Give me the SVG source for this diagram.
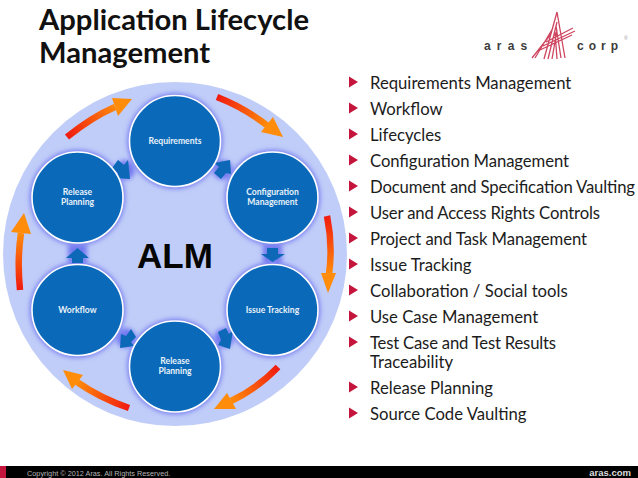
<svg xmlns="http://www.w3.org/2000/svg" width="638" height="478" viewBox="0 0 638 478">
<style>
text{font-variant-ligatures:none}
.title{font:700 29.200px Lato,"Liberation Sans",sans-serif;fill:#111}
.item{font:16.700px Lato,"Liberation Sans",sans-serif;fill:#1c1c1c}
.lab{font:700 8.600px Lato,"Liberation Sans",sans-serif;fill:#e8f2fa;text-anchor:middle}
.node{fill:#0a69b8;stroke:#fff;stroke-width:1.6}
.glow{fill:#7379f0;filter:url(#blur)}
.small{fill:#0a69b8;filter:url(#soft)}
.shaft{fill:none;stroke-width:6.500}
.head{fill:#ff8c0a}
.bul{fill:#c4153c}
.logo{font-family:"Liberation Sans",sans-serif;font-weight:700;font-size:12px;fill:#3c3c3c;letter-spacing:5px}
</style>
<defs>
<filter id="blur" x="-30%" y="-30%" width="160%" height="160%"><feGaussianBlur stdDeviation="2.5"/></filter>
<filter id="soft" x="-20%" y="-20%" width="140%" height="140%"><feGaussianBlur stdDeviation="0.6"/></filter>
<linearGradient id="a1" gradientUnits="userSpaceOnUse" x1="67" y1="137" x2="118" y2="106"><stop offset="0" stop-color="#f01a10"/><stop offset="1" stop-color="#ff8c0a"/></linearGradient>
<linearGradient id="a2" gradientUnits="userSpaceOnUse" x1="217" y1="97" x2="268" y2="126"><stop offset="0" stop-color="#f01a10"/><stop offset="1" stop-color="#ff8c0a"/></linearGradient>
<linearGradient id="a3" gradientUnits="userSpaceOnUse" x1="327" y1="216" x2="329" y2="274"><stop offset="0" stop-color="#f01a10"/><stop offset="1" stop-color="#ff8c0a"/></linearGradient>
<linearGradient id="a4" gradientUnits="userSpaceOnUse" x1="278" y1="367" x2="231" y2="401"><stop offset="0" stop-color="#f01a10"/><stop offset="1" stop-color="#ff8c0a"/></linearGradient>
<linearGradient id="a5" gradientUnits="userSpaceOnUse" x1="129" y1="408" x2="77" y2="382"><stop offset="0" stop-color="#f01a10"/><stop offset="1" stop-color="#ff8c0a"/></linearGradient>
<linearGradient id="a6" gradientUnits="userSpaceOnUse" x1="20" y1="290" x2="21" y2="233"><stop offset="0" stop-color="#f01a10"/><stop offset="1" stop-color="#ff8c0a"/></linearGradient>
</defs>
<rect width="638" height="478" fill="#fff"/>
<text class="title" x="39" y="30">Application Lifecycle</text>
<text class="title" x="39" y="63">Management</text>
<g id="logo">
<text class="logo" x="484" y="50" style="letter-spacing:6.200px">aras</text>
<text class="logo" x="577" y="50">corp</text>
<text x="624" y="40" font-family="'Liberation Sans',sans-serif" font-size="5" fill="#999">®</text>
<path d="M532 58L551 34M535 58L553 28M544 59L557 12M548 59L557 22M552 59L557 30M565 58L557 12M561 58L556 26M557 59L555 32M546 42L573 28M543 46L575 31M540 50L572 35" fill="none" stroke="#cf4560" stroke-width="1.300"/>
</g>
<g id="background"><circle cx="175" cy="254" r="172" fill="#c0cdf8"/></g>
<g id="glows">
<circle class="glow" cx="175" cy="141" r="47.500"/><circle class="glow" cx="77.500" cy="197.500" r="47.500"/><circle class="glow" cx="272.500" cy="197.500" r="47.500"/><circle class="glow" cx="77.500" cy="310" r="47.500"/><circle class="glow" cx="272.500" cy="310" r="47.500"/><circle class="glow" cx="175" cy="366.500" r="47.500"/>
<rect class="glow" x="68" y="244" width="19" height="20"/><rect class="glow" x="263" y="244" width="19" height="20"/>
<circle class="glow" cx="125" cy="170" r="10"/><circle class="glow" cx="223" cy="170" r="10"/><circle class="glow" cx="126" cy="338" r="10"/><circle class="glow" cx="224" cy="338" r="10"/>
</g>
<g id="connectors">
<path class="small" d="M130 179L117 178L118 173L112 168L118 160L124 165L128 160Z"/>
<path class="small" d="M230 160L231 174L226 173L221 179L214 173L219 167L214 163Z"/>
<path class="small" d="M77.500 248L89 258L83 258L83 263L72 263L72 258L66 258Z"/>
<path class="small" d="M272.500 262L261 254L267 254L267 248L278 248L278 254L285 254Z"/>
<path class="small" d="M120 348L121 334L126 336L131 329L136 337L131 342L134 346Z"/>
<path class="small" d="M230 349L218 345L221 340L218 332L226 328L229 334L233 330Z"/>
<path class="shaft" stroke="url(#a1)" d="M67 137Q92 117 115 107"/><polygon class="head" points="132,99 112,98 118,116"/>
<path class="shaft" stroke="url(#a2)" d="M217 97Q245 108 268 126"/><polygon class="head" points="283,137 273,117 261,132"/>
<path class="shaft" stroke="url(#a3)" d="M327 216Q333 245 329 274"/><polygon class="head" points="328,293 321,273 336,273"/>
<path class="shaft" stroke="url(#a4)" d="M278 367Q258 388 231 401"/><polygon class="head" points="214,409 227,393 236,409"/>
<path class="shaft" stroke="url(#a5)" d="M129 408Q100 398 77 382"/><polygon class="head" points="63,370 83,375 72,389"/>
<path class="shaft" stroke="url(#a6)" d="M20 290Q17 260 21 233"/><polygon class="head" points="24,213 11,232 31,234"/>
</g>
<g id="n-requirements"><circle class="node" cx="175" cy="141" r="45.500"/><text class="lab" x="175" y="144">Requirements</text></g>
<g id="n-release-top"><circle class="node" cx="77.500" cy="197.500" r="45.500"/><text class="lab" x="77.500" y="195">Release</text><text class="lab" x="77.500" y="205">Planning</text></g>
<g id="n-configuration"><circle class="node" cx="272.500" cy="197.500" r="45.500"/><text class="lab" x="272.500" y="195">Configuration</text><text class="lab" x="272.500" y="205">Management</text></g>
<g id="n-workflow"><circle class="node" cx="77.500" cy="310" r="45.500"/><text class="lab" x="77.500" y="313">Workflow</text></g>
<g id="n-issue"><circle class="node" cx="272.500" cy="310" r="45.500"/><text class="lab" x="272.500" y="313">Issue Tracking</text></g>
<g id="n-release-bottom"><circle class="node" cx="175" cy="366.500" r="45.500"/><text class="lab" x="175" y="364">Release</text><text class="lab" x="175" y="374">Planning</text></g>
<text x="175" y="268" text-anchor="middle" font-family="'Liberation Sans',sans-serif" font-weight="700" font-size="35" fill="#050505">ALM</text>
<g id="bullets">
<path class="bul" d="M349 76.500l9 5.500l-9 5.500zM349 102.500l9 5.500l-9 5.500zM349 128.500l9 5.500l-9 5.500zM349 154.500l9 5.500l-9 5.500zM349 180.500l9 5.500l-9 5.500zM349 206.500l9 5.500l-9 5.500zM349 232.500l9 5.500l-9 5.500zM349 258.500l9 5.500l-9 5.500zM349 284.500l9 5.500l-9 5.500zM349 310.500l9 5.500l-9 5.500zM349 336.500l9 5.500l-9 5.500zM349 381.500l9 5.500l-9 5.500zM349 407.500l9 5.500l-9 5.500z"/>
<text class="item" x="370" y="89">Requirements Management</text>
<text class="item" x="370" y="115">Workflow</text>
<text class="item" x="370" y="141">Lifecycles</text>
<text class="item" x="370" y="167" textLength="199">Configuration Management</text>
<text class="item" x="370" y="193" textLength="265">Document and Specification Vaulting</text>
<text class="item" x="370" y="219" textLength="230">User and Access Rights Controls</text>
<text class="item" x="370" y="245" textLength="217">Project and Task Management</text>
<text class="item" x="370" y="271">Issue Tracking</text>
<text class="item" x="370" y="297">Collaboration / Social tools</text>
<text class="item" x="370" y="323">Use Case Management</text>
<text class="item" x="370" y="349" textLength="186">Test Case and Test Results</text>
<text class="item" x="370" y="368">Traceability</text>
<text class="item" x="370" y="394">Release Planning</text>
<text class="item" x="370" y="420">Source Code Vaulting</text>
</g>
<g id="footer">
<rect x="0" y="466" width="638" height="12" fill="#000"/>
<rect x="0" y="466" width="6" height="12" fill="#c4153c"/>
<text x="27" y="476" font-family="'Liberation Sans',sans-serif" font-size="7.300" fill="#b5b5b5">Copyright © 2012 Aras.  All Rights Reserved.</text>
<text x="631" y="476" text-anchor="end" font-family="'Liberation Sans',sans-serif" font-weight="700" font-size="9.500" fill="#ddd">aras.com</text>
</g>
</svg>
